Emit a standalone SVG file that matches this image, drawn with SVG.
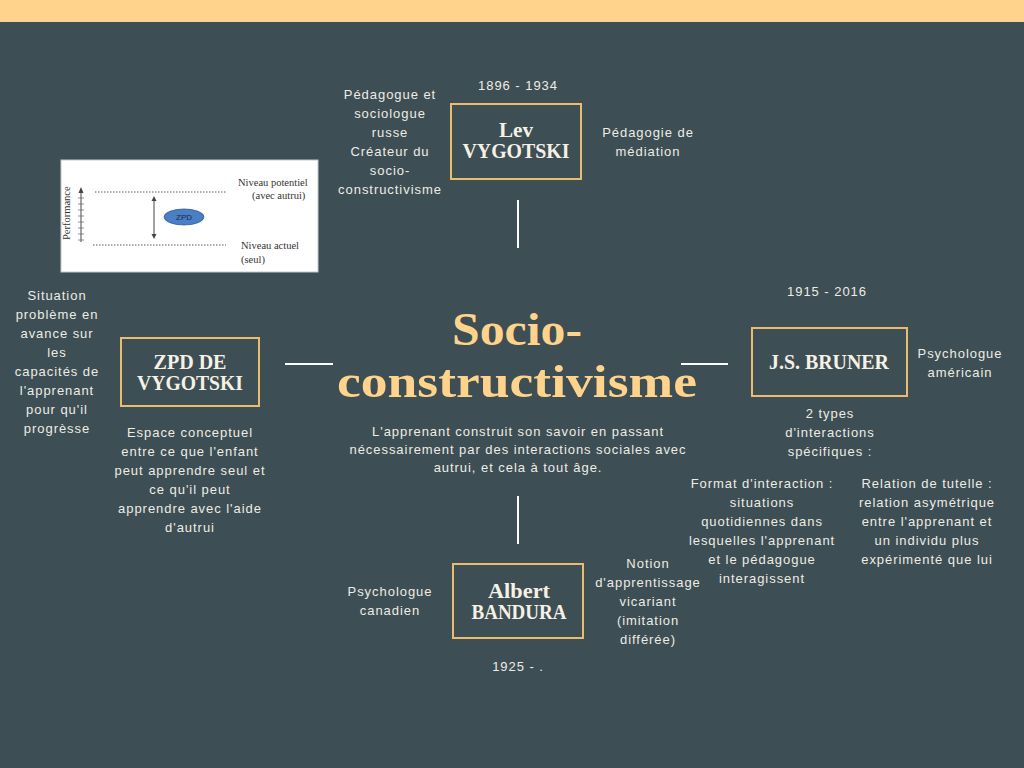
<svg xmlns="http://www.w3.org/2000/svg" width="1024" height="768" viewBox="0 0 1024 768">
<style>
.t{font-family:"Liberation Sans",Arial,sans-serif;font-size:13px;fill:#eeece4;letter-spacing:0.95px;text-anchor:middle}
.box{fill:none;stroke:#ecbc6e;stroke-width:2}
.nm{font-family:"Liberation Serif","Times New Roman",serif;font-weight:bold;font-size:20px;fill:#f6f1e4;text-anchor:middle}
.ttl{font-family:"Liberation Serif","Times New Roman",serif;font-weight:bold;font-size:46px;fill:#ffd38b;text-anchor:middle}
.ln{stroke:#ffffff;stroke-width:2}
.s{font-family:"Liberation Serif","Times New Roman",serif;font-size:10.5px;fill:#333}
</style>
<rect width="1024" height="768" fill="#3d4e54"/>
<rect width="1024" height="22" fill="#ffd38b"/>

<g id="connectors">
<line class="ln" x1="518" y1="200" x2="518" y2="248"/>
<line class="ln" x1="518" y1="496" x2="518" y2="544"/>
<line class="ln" x1="285" y1="364" x2="333" y2="364"/>
<line class="ln" x1="681" y1="364" x2="728" y2="364"/>
</g>

<g id="center">
<text class="ttl" x="517" y="345" textLength="130" lengthAdjust="spacingAndGlyphs">Socio-</text>
<text class="ttl" x="517" y="397" textLength="360" lengthAdjust="spacingAndGlyphs">constructivisme</text>
<text class="t" x="518" y="436">L'apprenant construit son savoir en passant</text>
<text class="t" x="518" y="454">nécessairement par des interactions sociales avec</text>
<text class="t" x="518" y="472">autrui, et cela à tout âge.</text>
</g>

<g id="vygotski">
<rect class="box" x="451" y="104" width="130" height="75"/>
<text class="nm" x="516" y="137" textLength="34" lengthAdjust="spacingAndGlyphs">Lev</text>
<text class="nm" x="516" y="158" textLength="107" lengthAdjust="spacingAndGlyphs">VYGOTSKI</text>
<text class="t" x="518" y="90">1896 - 1934</text>
<text class="t" x="390" y="99">Pédagogue et</text>
<text class="t" x="390" y="118">sociologue</text>
<text class="t" x="390" y="137">russe</text>
<text class="t" x="390" y="156">Créateur du</text>
<text class="t" x="390" y="175">socio-</text>
<text class="t" x="390" y="194">constructivisme</text>
<text class="t" x="648" y="137">Pédagogie de</text>
<text class="t" x="648" y="156">médiation</text>
</g>

<g id="zpd-image">
<rect x="61" y="160" width="257" height="112" fill="#ffffff" stroke="#c8c8c8" stroke-width="1"/>
<line x1="81" y1="242" x2="81" y2="190" stroke="#444" stroke-width="1"/>
<polygon points="81,187 78.5,193 83.5,193" fill="#444"/>
<g stroke="#666" stroke-width="0.7">
<line x1="78" y1="198" x2="84" y2="198"/><line x1="78" y1="204" x2="84" y2="204"/><line x1="78" y1="210" x2="84" y2="210"/><line x1="78" y1="216" x2="84" y2="216"/><line x1="78" y1="222" x2="84" y2="222"/><line x1="78" y1="228" x2="84" y2="228"/><line x1="78" y1="234" x2="84" y2="234"/><line x1="78" y1="240" x2="84" y2="240"/>
</g>
<text class="s" transform="translate(70,240) rotate(-90)" font-size="9">Performance</text>
<line x1="95" y1="192" x2="226" y2="192" stroke="#555" stroke-width="1" stroke-dasharray="1.5,1.5"/>
<line x1="93" y1="245" x2="226" y2="245" stroke="#555" stroke-width="1" stroke-dasharray="1.5,1.5"/>
<line x1="154" y1="199" x2="154" y2="236" stroke="#444" stroke-width="1"/>
<polygon points="154,196 151.5,201 156.5,201" fill="#444"/>
<polygon points="154,239 151.5,234 156.5,234" fill="#444"/>
<ellipse cx="184" cy="217" rx="20" ry="8" fill="#4a7ec6" stroke="#2e5a96" stroke-width="0.8"/>
<text x="184" y="220" font-family="Liberation Sans,Arial,sans-serif" font-size="8" fill="#1a2a44" text-anchor="middle">ZPD</text>
<text class="s" x="238" y="186">Niveau potentiel</text>
<text class="s" x="252" y="199">(avec autrui)</text>
<text class="s" x="241" y="249">Niveau actuel</text>
<text class="s" x="241" y="263">(seul)</text>
</g>

<g id="zpd">
<rect class="box" x="121" y="338" width="138" height="68"/>
<text class="nm" x="190" y="369" textLength="73" lengthAdjust="spacingAndGlyphs">ZPD DE</text>
<text class="nm" x="190" y="390" textLength="106" lengthAdjust="spacingAndGlyphs">VYGOTSKI</text>
<text class="t" x="57" y="300">Situation</text>
<text class="t" x="57" y="319">problème en</text>
<text class="t" x="57" y="338">avance sur</text>
<text class="t" x="57" y="357">les</text>
<text class="t" x="57" y="376">capacités de</text>
<text class="t" x="57" y="395">l'apprenant</text>
<text class="t" x="57" y="414">pour qu'il</text>
<text class="t" x="57" y="433">progrèsse</text>
<text class="t" x="190" y="437">Espace conceptuel</text>
<text class="t" x="190" y="456">entre ce que l'enfant</text>
<text class="t" x="190" y="475">peut apprendre seul et</text>
<text class="t" x="190" y="494">ce qu'il peut</text>
<text class="t" x="190" y="513">apprendre avec l'aide</text>
<text class="t" x="190" y="532">d'autrui</text>
</g>

<g id="bruner">
<rect class="box" x="752" y="328" width="155" height="68"/>
<text class="nm" x="829" y="369" textLength="120" lengthAdjust="spacingAndGlyphs">J.S. BRUNER</text>
<text class="t" x="827" y="296">1915 - 2016</text>
<text class="t" x="960" y="358">Psychologue</text>
<text class="t" x="960" y="377">américain</text>
<text class="t" x="830" y="418">2 types</text>
<text class="t" x="830" y="437">d'interactions</text>
<text class="t" x="830" y="456">spécifiques :</text>
<text class="t" x="762" y="488">Format d'interaction :</text>
<text class="t" x="762" y="507">situations</text>
<text class="t" x="762" y="526">quotidiennes dans</text>
<text class="t" x="762" y="545">lesquelles l'apprenant</text>
<text class="t" x="762" y="564">et le pédagogue</text>
<text class="t" x="762" y="583">interagissent</text>
<text class="t" x="927" y="488">Relation de tutelle :</text>
<text class="t" x="927" y="507">relation asymétrique</text>
<text class="t" x="927" y="526">entre l'apprenant et</text>
<text class="t" x="927" y="545">un individu plus</text>
<text class="t" x="927" y="564">expérimenté que lui</text>
</g>

<g id="bandura">
<rect class="box" x="453" y="564" width="130" height="74"/>
<text class="nm" x="519" y="598" textLength="62" lengthAdjust="spacingAndGlyphs">Albert</text>
<text class="nm" x="519" y="619" textLength="95" lengthAdjust="spacingAndGlyphs">BANDURA</text>
<text class="t" x="390" y="596">Psychologue</text>
<text class="t" x="390" y="615">canadien</text>
<text class="t" x="648" y="568">Notion</text>
<text class="t" x="648" y="587">d'apprentissage</text>
<text class="t" x="648" y="606">vicariant</text>
<text class="t" x="648" y="625">(imitation</text>
<text class="t" x="648" y="644">différée)</text>
<text class="t" x="518" y="671">1925 - .</text>
</g>
</svg>
